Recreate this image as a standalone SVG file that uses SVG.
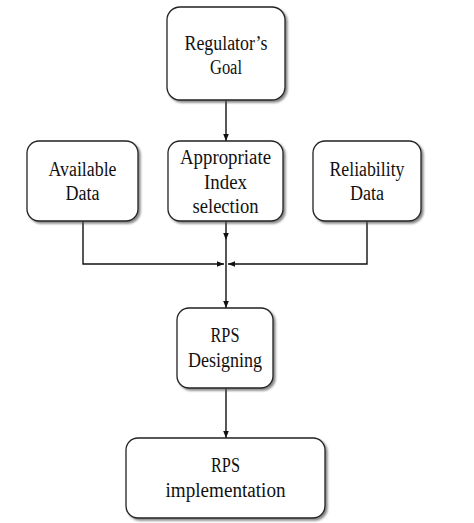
<svg xmlns="http://www.w3.org/2000/svg" width="474" height="523" viewBox="0 0 474 523">
<defs>
<style>
.box{fill:#fff;stroke:#222;stroke-width:1.3;filter:url(#sh)}
.t{font-family:"Liberation Serif",serif;font-size:20px;fill:#111;text-anchor:middle}
.c{fill:none;stroke:#111;stroke-width:1.4}
</style>
<filter id="sh" x="-10%" y="-10%" width="130%" height="130%">
<feDropShadow dx="2" dy="2" stdDeviation="1.2" flood-color="#555" flood-opacity="0.7"/>
</filter>
<marker id="ah" viewBox="0 0 10 10" refX="10" refY="5" markerWidth="7" markerHeight="7" orient="auto" markerUnits="userSpaceOnUse">
<path d="M0,1 L10,5 L0,9 z" fill="#111"/>
</marker>
</defs>
<rect width="474" height="523" fill="#fff"/>
<g id="connectors">
<path class="c" d="M226,100 V141" marker-end="url(#ah)"/>
<path class="c" d="M226,221 V240" marker-end="url(#ah)"/>
<path class="c" d="M226,240 V308" marker-end="url(#ah)"/>
<path class="c" d="M83,221 V264 H224" marker-end="url(#ah)"/>
<path class="c" d="M367,221 V264 H228" marker-end="url(#ah)"/>
<path class="c" d="M226,388 V438" marker-end="url(#ah)"/>
</g>
<g id="goal">
<rect class="box" x="167" y="7" width="118" height="93" rx="13"/>
<text class="t" x="226" y="50" textLength="83" lengthAdjust="spacingAndGlyphs">Regulator’s</text>
<text class="t" x="226" y="74" textLength="32" lengthAdjust="spacingAndGlyphs">Goal</text>
</g>
<g id="available">
<rect class="box" x="27" y="141" width="111" height="80" rx="12"/>
<text class="t" x="82.500" y="176" textLength="68" lengthAdjust="spacingAndGlyphs">Available</text>
<text class="t" x="82.500" y="200" textLength="34" lengthAdjust="spacingAndGlyphs">Data</text>
</g>
<g id="index">
<rect class="box" x="168" y="141" width="115" height="80" rx="12"/>
<text class="t" x="225.500" y="164" textLength="91" lengthAdjust="spacingAndGlyphs">Appropriate</text>
<text class="t" x="225.500" y="189" textLength="43" lengthAdjust="spacingAndGlyphs">Index</text>
<text class="t" x="225.500" y="213" textLength="66" lengthAdjust="spacingAndGlyphs">selection</text>
</g>
<g id="reliability">
<rect class="box" x="313" y="141" width="108" height="80" rx="12"/>
<text class="t" x="367" y="176" textLength="75" lengthAdjust="spacingAndGlyphs">Reliability</text>
<text class="t" x="367" y="200" textLength="34" lengthAdjust="spacingAndGlyphs">Data</text>
</g>
<g id="design">
<rect class="box" x="177" y="308" width="96" height="80" rx="12"/>
<text class="t" x="225" y="342" textLength="29" lengthAdjust="spacingAndGlyphs">RPS</text>
<text class="t" x="225" y="367" textLength="74" lengthAdjust="spacingAndGlyphs">Designing</text>
</g>
<g id="impl">
<rect class="box" x="126" y="438" width="199" height="80" rx="12"/>
<text class="t" x="225.500" y="472" textLength="29" lengthAdjust="spacingAndGlyphs">RPS</text>
<text class="t" x="225.500" y="497" textLength="120" lengthAdjust="spacingAndGlyphs">implementation</text>
</g>
</svg>
